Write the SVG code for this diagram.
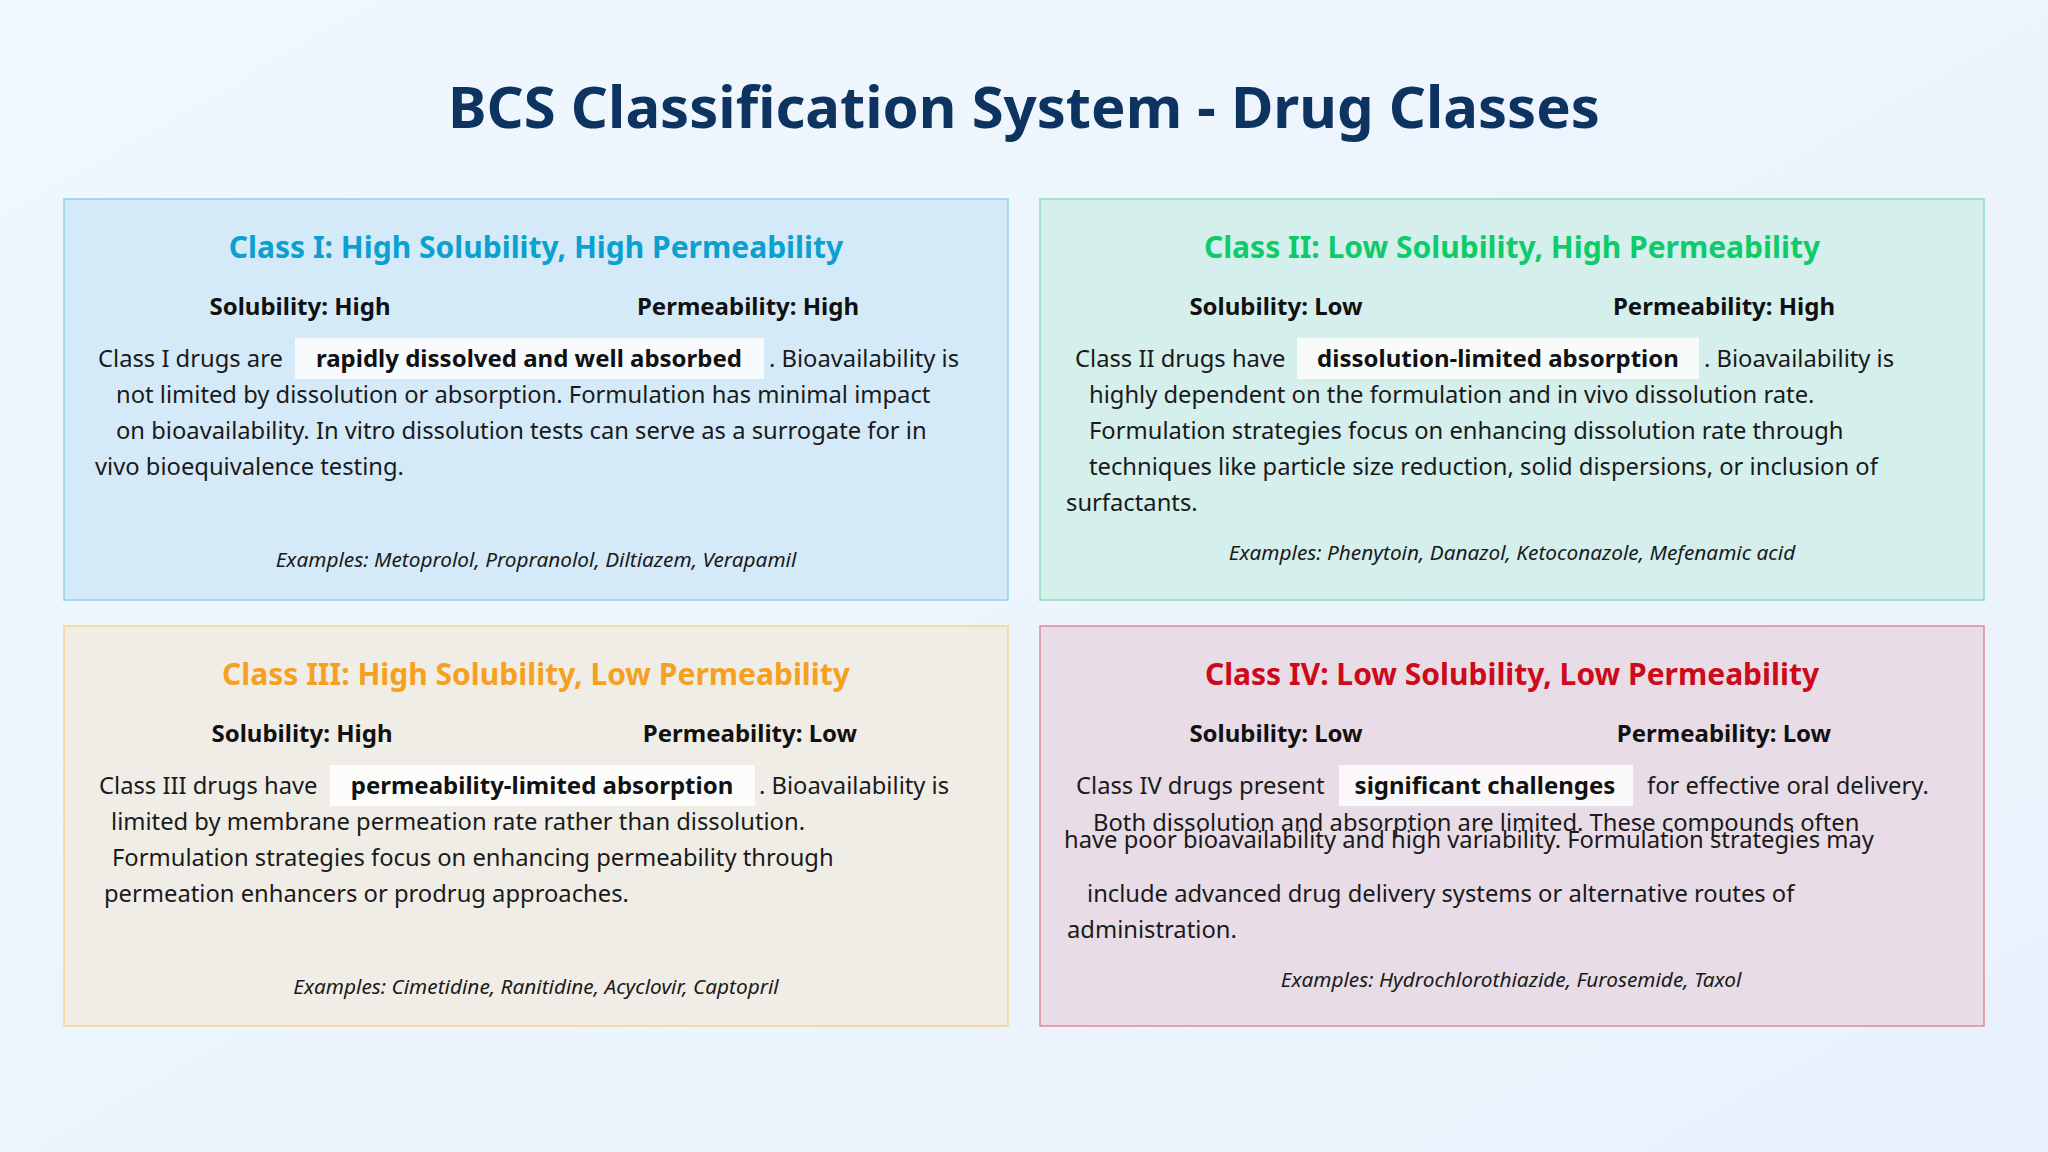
<svg xmlns="http://www.w3.org/2000/svg" width="2048" height="1152" viewBox="0 0 2048 1152">
<defs>
<linearGradient id="bg" x1="0" y1="0" x2="1" y2="1"><stop offset="0" stop-color="#f0f7fe"/><stop offset="1" stop-color="#e9f1fc"/></linearGradient>
<style>
text{font-family:"Noto Sans","Liberation Sans",sans-serif;fill:#1a1a1a}
.title{font-size:58px;font-weight:700;fill:#0d3461;text-anchor:middle}
.ct{font-size:30px;font-weight:700;text-anchor:middle}
.prop{font-size:24px;font-weight:700;text-anchor:middle;fill:#111}
.body{font-size:23.75px}
.hl{font-size:24px;font-weight:700;text-anchor:middle;fill:#111}
.hlbox{fill:#ffffff;fill-opacity:0.8}
.ex{font-size:20.8px;font-style:italic;text-anchor:middle}
.box{stroke-width:1.5}
</style>
</defs>
<rect width="2048" height="1152" fill="url(#bg)"/>
<text class="title" x="1024" y="128">BCS Classification System - Drug Classes</text>

<g id="class1">
<rect class="box" x="64" y="199" width="944" height="401" fill="#d4eaf8" stroke="#93d2e6"/>
<text class="ct" x="536" y="258" style="fill:#0aa0d0">Class I: High Solubility, High Permeability</text>
<text class="prop" x="300" y="315">Solubility: High</text>
<text class="prop" x="748" y="315">Permeability: High</text>
<rect class="hlbox" x="295" y="338" width="469" height="41"/>
<text class="body" x="98" y="367">Class I drugs are</text>
<text class="hl" x="529" y="367">rapidly dissolved and well absorbed</text>
<text class="body" x="769" y="367">. Bioavailability is</text>
<text class="body" x="116" y="403">not limited by dissolution or absorption. Formulation has minimal impact</text>
<text class="body" x="116" y="439">on bioavailability. In vitro dissolution tests can serve as a surrogate for in</text>
<text class="body" x="95" y="475">vivo bioequivalence testing.</text>
<text class="ex" x="536" y="567">Examples: Metoprolol, Propranolol, Diltiazem, Verapamil</text>
</g>

<g id="class2">
<rect class="box" x="1040" y="199" width="944" height="401" fill="#d4efec" stroke="#8edcbc"/>
<text class="ct" x="1512" y="258" style="fill:#0ccb68">Class II: Low Solubility, High Permeability</text>
<text class="prop" x="1276" y="315">Solubility: Low</text>
<text class="prop" x="1724" y="315">Permeability: High</text>
<rect class="hlbox" x="1297" y="338" width="402" height="41"/>
<text class="body" x="1075" y="367">Class II drugs have</text>
<text class="hl" x="1498" y="367">dissolution-limited absorption</text>
<text class="body" x="1704" y="367">. Bioavailability is</text>
<text class="body" x="1089" y="403">highly dependent on the formulation and in vivo dissolution rate.</text>
<text class="body" x="1089" y="439">Formulation strategies focus on enhancing dissolution rate through</text>
<text class="body" x="1089" y="475">techniques like particle size reduction, solid dispersions, or inclusion of</text>
<text class="body" x="1066" y="511">surfactants.</text>
<text class="ex" x="1512" y="560">Examples: Phenytoin, Danazol, Ketoconazole, Mefenamic acid</text>
</g>

<g id="class3">
<rect class="box" x="64" y="626" width="944" height="400" fill="#f0ede6" stroke="#f3d38a"/>
<text class="ct" x="536" y="685" style="fill:#f5a020">Class III: High Solubility, Low Permeability</text>
<text class="prop" x="302" y="742">Solubility: High</text>
<text class="prop" x="750" y="742">Permeability: Low</text>
<rect class="hlbox" x="330" y="765" width="425" height="41"/>
<text class="body" x="99" y="794">Class III drugs have</text>
<text class="hl" x="542" y="794">permeability-limited absorption</text>
<text class="body" x="759" y="794">. Bioavailability is</text>
<text class="body" x="111" y="830">limited by membrane permeation rate rather than dissolution.</text>
<text class="body" x="112" y="866">Formulation strategies focus on enhancing permeability through</text>
<text class="body" x="104" y="902">permeation enhancers or prodrug approaches.</text>
<text class="ex" x="536" y="994">Examples: Cimetidine, Ranitidine, Acyclovir, Captopril</text>
</g>

<g id="class4">
<rect class="box" x="1040" y="626" width="944" height="400" fill="#e8dce6" stroke="#e08a98"/>
<text class="ct" x="1512" y="685" style="fill:#cc0a1a">Class IV: Low Solubility, Low Permeability</text>
<text class="prop" x="1276" y="742">Solubility: Low</text>
<text class="prop" x="1724" y="742">Permeability: Low</text>
<rect class="hlbox" x="1339" y="765" width="294" height="41"/>
<text class="body" x="1076" y="794">Class IV drugs present</text>
<text class="hl" x="1485" y="794">significant challenges</text>
<text class="body" x="1647" y="794">for effective oral delivery.</text>
<text class="body" x="1093" y="831">Both dissolution and absorption are limited. These compounds often</text>
<text class="body" x="1064" y="848">have poor bioavailability and high variability. Formulation strategies may</text>
<text class="body" x="1087" y="902">include advanced drug delivery systems or alternative routes of</text>
<text class="body" x="1067" y="938">administration.</text>
<text class="ex" x="1511" y="987">Examples: Hydrochlorothiazide, Furosemide, Taxol</text>
</g>
</svg>
